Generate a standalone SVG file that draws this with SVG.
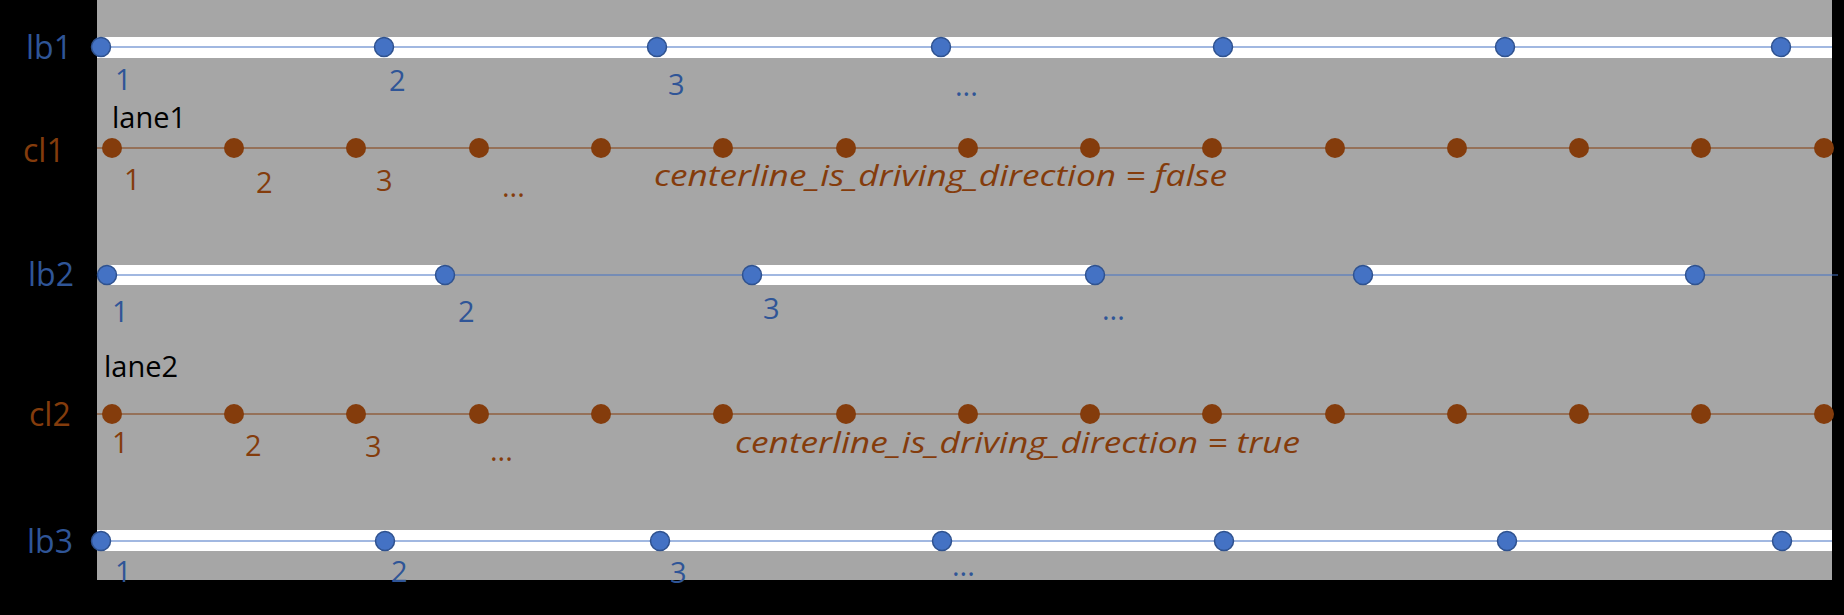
<svg xmlns="http://www.w3.org/2000/svg" width="1844" height="615" viewBox="0 0 1844 615">
<style>
text{font-family:"Open Sans","Liberation Sans",sans-serif;font-size:29px}
.b{fill:#2F5597}.r{fill:#843C0C}.k{fill:#000}
.it{font-style:italic}
.side{font-size:32px}
.bd{fill:#4472C4;stroke:#2F528F;stroke-width:1.5}
.rd{fill:#843C0C}
.band{fill:#fff}
.bl{stroke:#4472C4;stroke-width:1.2}
.rl{stroke:#843C0C;stroke-width:1.2}
</style>
<rect width="1844" height="615" fill="#000"/>
<rect x="97" y="0" width="1735" height="580" fill="#A6A6A6"/>
<g id="connectors">
<rect class="band" x="97" y="37" width="1735" height="21"/>
<line class="bl" x1="97" y1="47" x2="1832" y2="47"/>
<line class="rl" x1="97" y1="148" x2="1832" y2="148"/>
<rect class="band" x="107" y="265" width="338" height="20"/>
<rect class="band" x="752" y="265" width="343" height="20"/>
<rect class="band" x="1363" y="265" width="332" height="20"/>
<line class="bl" x1="107" y1="275" x2="1838" y2="275"/>
<line class="rl" x1="97" y1="414" x2="1832" y2="414"/>
<rect class="band" x="97" y="530" width="1735" height="21"/>
<line class="bl" x1="97" y1="541" x2="1832" y2="541"/>
</g>
<g id="lb1">
<text class="b side" x="26" y="59">lb1</text>
<g class="bd"><circle cx="101" cy="47" r="9.5"/><circle cx="384" cy="47" r="9.5"/><circle cx="657" cy="47" r="9.5"/><circle cx="941" cy="47" r="9.5"/><circle cx="1223" cy="47" r="9.5"/><circle cx="1505" cy="47" r="9.5"/><circle cx="1781" cy="47" r="9.5"/></g>
<text class="b" x="115" y="90">1</text><text class="b" x="389" y="91">2</text><text class="b" x="668" y="95">3</text><text class="b" x="955" y="96">...</text>
</g>
<g id="cl1">
<text class="k" x="112" y="128">lane1</text>
<text class="r side" x="23" y="162">cl1</text>
<g class="rd"><circle cx="112" cy="148" r="10"/><circle cx="234" cy="148" r="10"/><circle cx="356" cy="148" r="10"/><circle cx="479" cy="148" r="10"/><circle cx="601" cy="148" r="10"/><circle cx="723" cy="148" r="10"/><circle cx="846" cy="148" r="10"/><circle cx="968" cy="148" r="10"/><circle cx="1090" cy="148" r="10"/><circle cx="1212" cy="148" r="10"/><circle cx="1335" cy="148" r="10"/><circle cx="1457" cy="148" r="10"/><circle cx="1579" cy="148" r="10"/><circle cx="1701" cy="148" r="10"/><circle cx="1824" cy="148" r="10"/></g>
<text class="r" x="124" y="190">1</text><text class="r" x="256" y="193">2</text><text class="r" x="376" y="191">3</text><text class="r" x="502" y="197">...</text>
<text class="r it" x="654" y="186" textLength="573" lengthAdjust="spacingAndGlyphs">centerline_is_driving_direction = false</text>
</g>
<g id="lb2">
<text class="b side" x="28" y="286">lb2</text>
<g class="bd"><circle cx="107" cy="275" r="9.5"/><circle cx="445" cy="275" r="9.5"/><circle cx="752" cy="275" r="9.5"/><circle cx="1095" cy="275" r="9.5"/><circle cx="1363" cy="275" r="9.5"/><circle cx="1695" cy="275" r="9.5"/></g>
<text class="b" x="112" y="322">1</text><text class="b" x="458" y="322">2</text><text class="b" x="763" y="319">3</text><text class="b" x="1102" y="320">...</text>
</g>
<g id="cl2">
<text class="k" x="104" y="377">lane2</text>
<text class="r side" x="29" y="426">cl2</text>
<g class="rd"><circle cx="112" cy="414" r="10"/><circle cx="234" cy="414" r="10"/><circle cx="356" cy="414" r="10"/><circle cx="479" cy="414" r="10"/><circle cx="601" cy="414" r="10"/><circle cx="723" cy="414" r="10"/><circle cx="846" cy="414" r="10"/><circle cx="968" cy="414" r="10"/><circle cx="1090" cy="414" r="10"/><circle cx="1212" cy="414" r="10"/><circle cx="1335" cy="414" r="10"/><circle cx="1457" cy="414" r="10"/><circle cx="1579" cy="414" r="10"/><circle cx="1701" cy="414" r="10"/><circle cx="1824" cy="414" r="10"/></g>
<text class="r" x="112" y="453">1</text><text class="r" x="245" y="456">2</text><text class="r" x="365" y="457">3</text><text class="r" x="490" y="461">...</text>
<text class="r it" x="735" y="453" textLength="565" lengthAdjust="spacingAndGlyphs">centerline_is_driving_direction = true</text>
</g>
<g id="lb3">
<text class="b side" x="27" y="553">lb3</text>
<g class="bd"><circle cx="101" cy="541" r="9.5"/><circle cx="385" cy="541" r="9.5"/><circle cx="660" cy="541" r="9.5"/><circle cx="942" cy="541" r="9.5"/><circle cx="1224" cy="541" r="9.5"/><circle cx="1507" cy="541" r="9.5"/><circle cx="1782" cy="541" r="9.5"/></g>
<text class="b" x="115" y="582">1</text><text class="b" x="391" y="582">2</text><text class="b" x="670" y="583">3</text><text class="b" x="952" y="576">...</text>
</g>
</svg>
